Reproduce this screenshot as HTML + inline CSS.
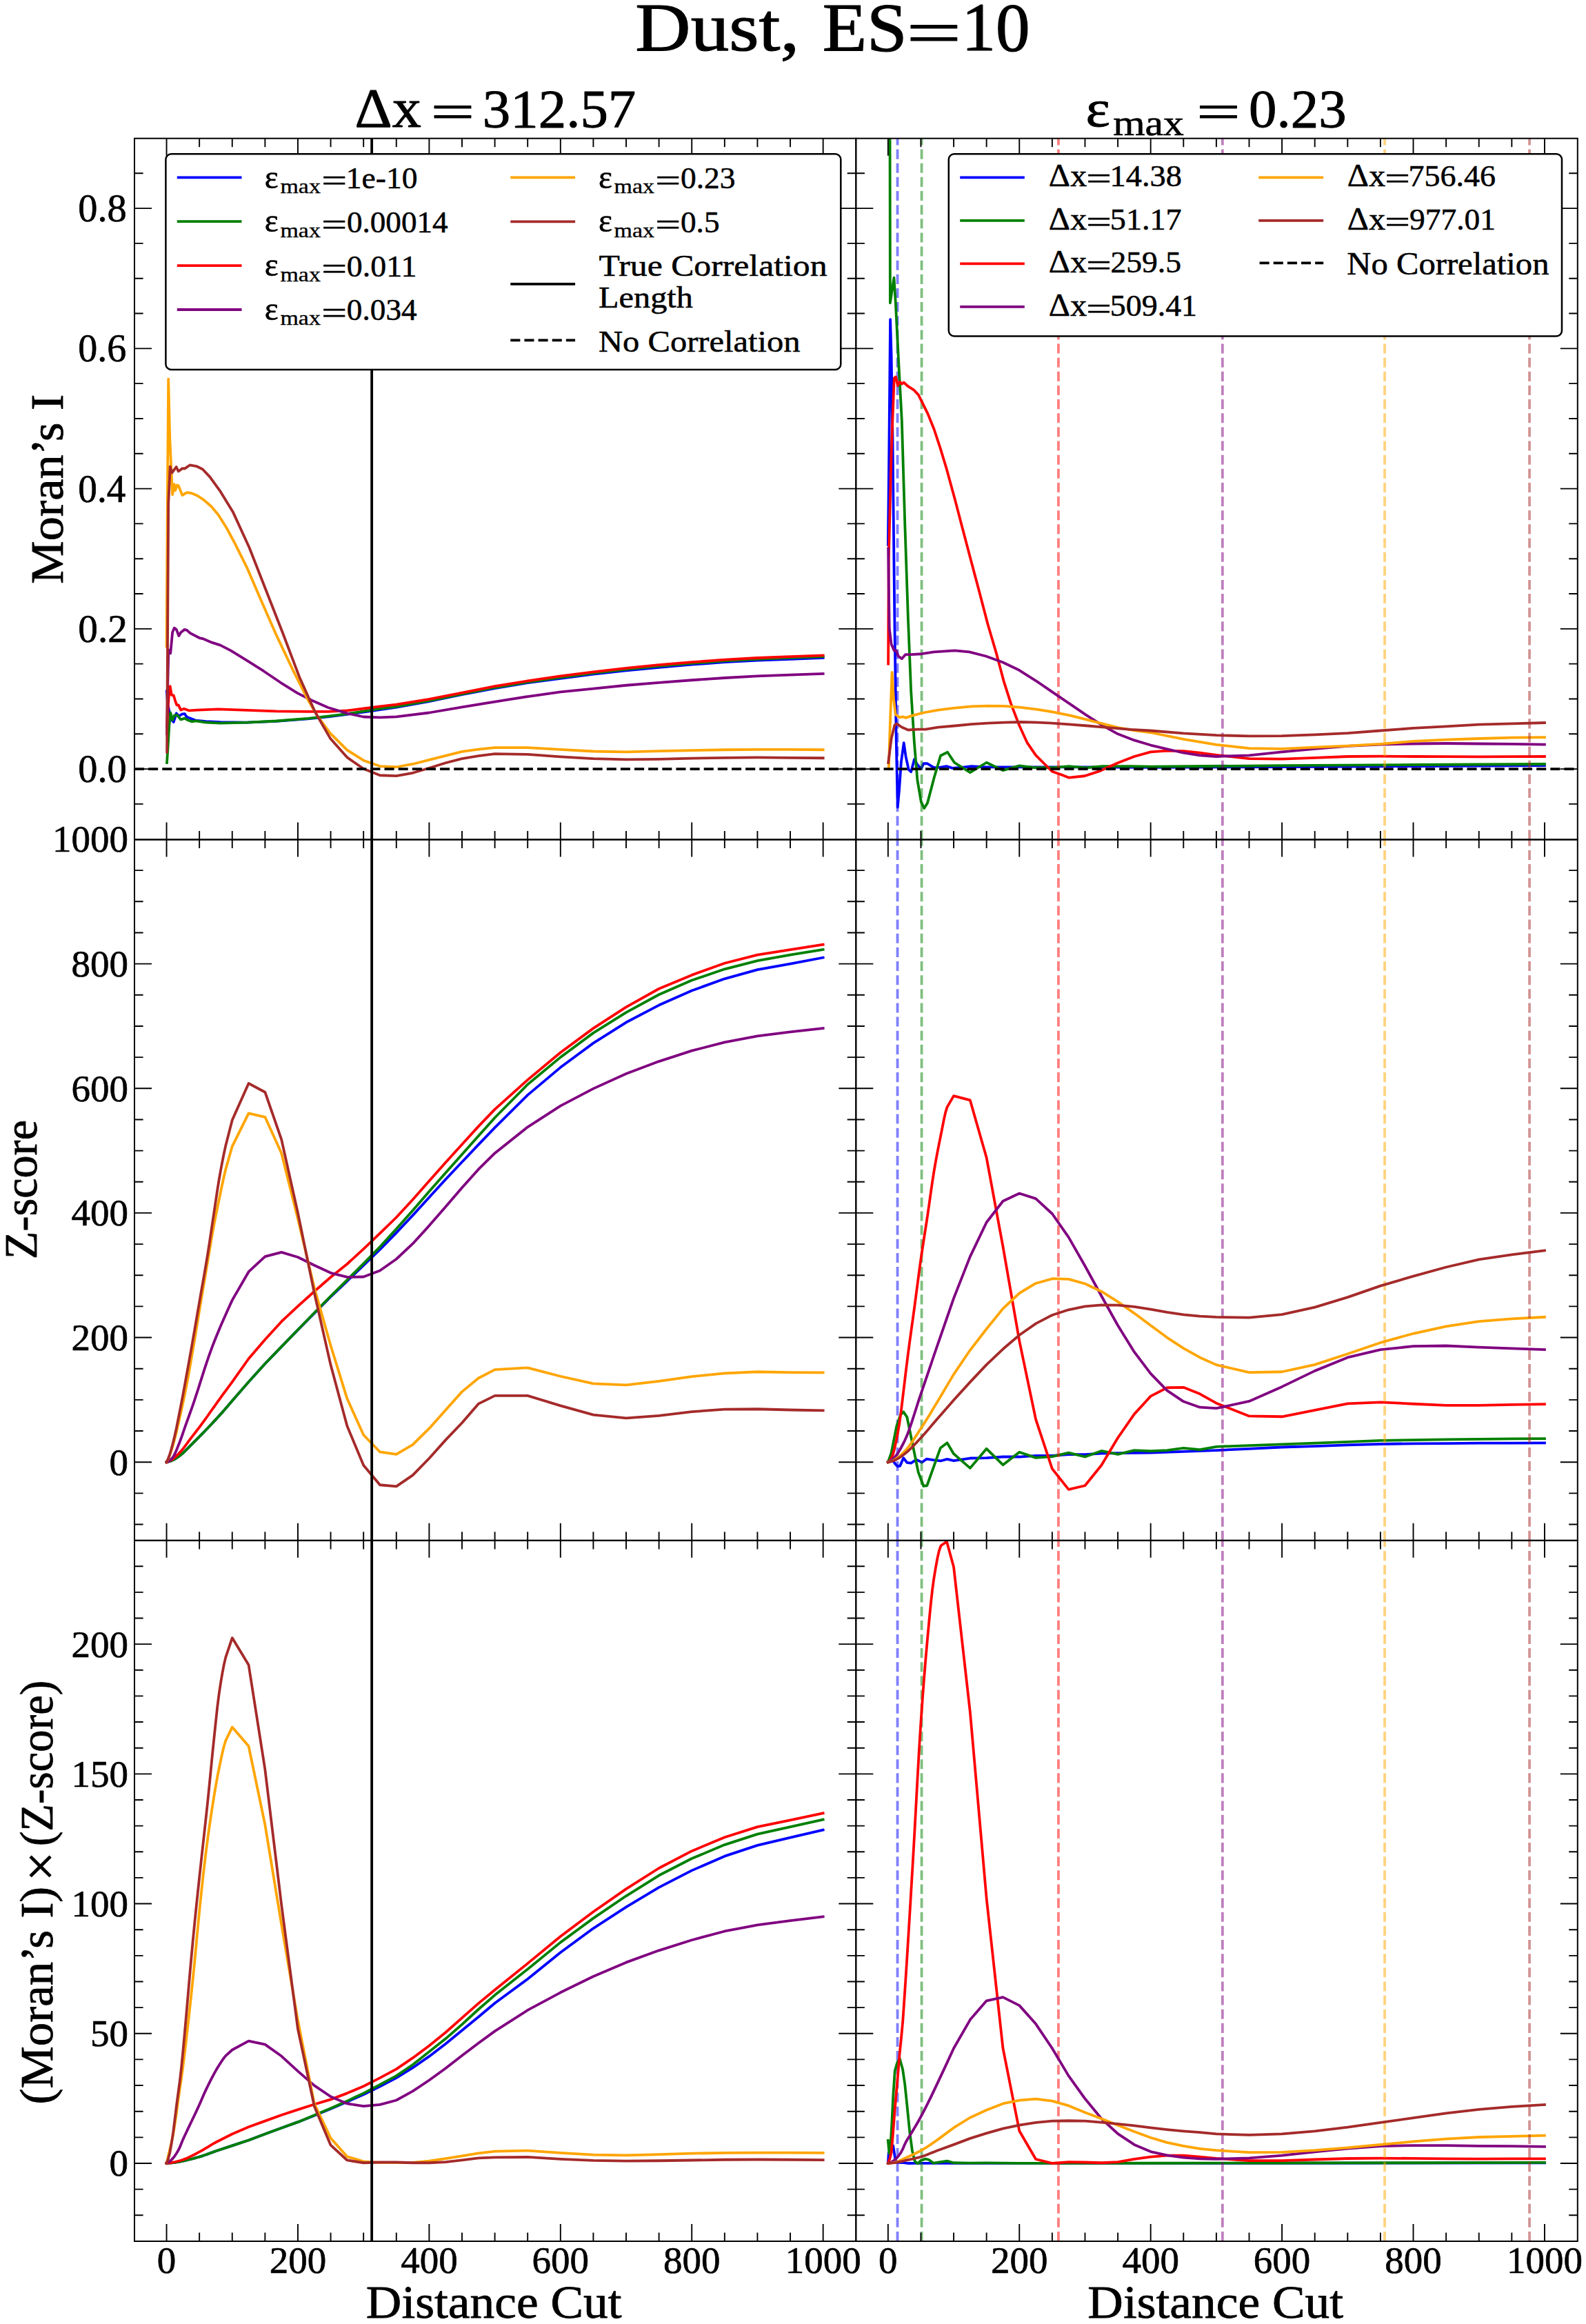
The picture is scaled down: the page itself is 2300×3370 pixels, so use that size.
<!DOCTYPE html>
<html lang="en"><head><meta charset="utf-8"><title>Dust, ES=10</title>
<style>html,body{margin:0;padding:0;background:#fff}svg{display:block}text{font-family:"Liberation Serif", "DejaVu Serif", serif;fill:#000}</style>
</head><body>
<svg width="2300" height="3370" viewBox="0 0 2300 3370">
<rect x="0" y="0" width="2300" height="3370" fill="#fff"/>
<defs>
<clipPath id="c00"><rect x="195" y="200.7" width="1046.3" height="1016.8"/></clipPath>
<clipPath id="c01"><rect x="1241.3" y="200.7" width="1046.5" height="1016.8"/></clipPath>
<clipPath id="c10"><rect x="195" y="1217.5" width="1046.3" height="1016.3"/></clipPath>
<clipPath id="c11"><rect x="1241.3" y="1217.5" width="1046.5" height="1016.3"/></clipPath>
<clipPath id="c20"><rect x="195" y="2233.8" width="1046.3" height="1016.2"/></clipPath>
<clipPath id="c21"><rect x="1241.3" y="2233.8" width="1046.5" height="1016.2"/></clipPath>
</defs>
<g>
<polyline clip-path="url(#c00)" points="241.84,1002.3 242.98,1018.56 245.36,1031.77 248.79,1043.96 251.74,1047.01 255.83,1034.41 259.35,1038.37 264.4,1035.32 267.73,1035.02 270.68,1039.39 276.78,1041.93 283.44,1044.57 298.68,1046.2 319.62,1047.21 358.66,1047.62 400.55,1045.79 446.25,1042.44 475.77,1039.39 503.38,1035.83 527.18,1032.58 550.98,1029.23 574.78,1025.67 622.39,1017.03 670,1007.17 717.6,998.03 765.2,990.1 812.81,983.8 860.41,977.7 908.02,972.42 955.62,967.74 1003.23,963.68 1050.84,960.22 1098.44,957.58 1146.05,955.75 1193.65,954.02" fill="none" stroke="#0000ff" stroke-width="3.8" stroke-linejoin="round" stroke-linecap="square"/>
<polyline clip-path="url(#c00)" points="242.03,1105.95 243.45,1084.61 245.36,1052.09 247.26,1033.5 250.12,1043.96 252.98,1037.36 256.78,1036.85 262.31,1043.45 267.73,1041.63 272.97,1044.47 278.68,1046.4 283.44,1045.49 298.68,1047.62 319.62,1048.54 358.66,1047.62 400.55,1045.49 446.25,1041.93 475.77,1038.58 503.38,1035.02 527.18,1031.36 550.98,1027.5 574.78,1024.65 622.39,1016.02 670,1006.36 717.6,997.01 765.2,989.08 812.81,982.28 860.41,976.08 908.02,970.69 955.62,965.91 1003.23,961.95 1050.84,958.39 1098.44,955.75 1146.05,953.92 1193.65,952.2" fill="none" stroke="#008000" stroke-width="3.8" stroke-linejoin="round" stroke-linecap="square"/>
<polyline clip-path="url(#c00)" points="242.03,1054.12 243.45,1028.72 244.88,1008.39 246.69,995.18 248.79,1007.89 251.74,1008.39 253.93,1015.51 256.31,1022.32 258.69,1022.32 262.31,1029.53 266.88,1027.7 274.4,1030.45 286.3,1029.53 316.58,1028.31 358.66,1029.84 400.55,1031.36 446.25,1031.97 475.77,1031.97 503.38,1030.45 527.18,1027.5 550.98,1024.45 574.78,1021.6 622.39,1013.98 670,1004.53 717.6,995.18 765.2,987.36 812.81,980.45 860.41,974.35 908.02,968.96 955.62,964.19 1003.23,960.22 1050.84,956.67 1098.44,954.02 1146.05,952.2 1193.65,950.47" fill="none" stroke="#ff0000" stroke-width="3.8" stroke-linejoin="round" stroke-linecap="square"/>
<polyline clip-path="url(#c00)" points="242.03,1064.29 242.98,1003.31 244.41,942.34 247.26,947.42 250.12,916.93 252.69,910.63 255.83,912.87 259.35,922.01 262.31,916.93 267.73,912.87 271.07,913.88 275.83,918.15 289.16,925.06 293.92,926.08 307.24,931.67 319.62,935.63 334.67,943.35 358.66,958.19 382.46,973.23 406.93,989.8 431.02,1004.84 451.96,1015.51 475.77,1025.97 503.38,1034.41 527.18,1039.49 550.98,1040.41 574.78,1039.39 622.39,1033.5 670,1025.47 717.6,1017.54 765.2,1010.02 812.81,1003.31 860.41,998.54 908.02,993.76 955.62,989.8 1003.23,986.24 1050.84,982.99 1098.44,980.45 1146.05,978.72 1193.65,976.89" fill="none" stroke="#800080" stroke-width="3.8" stroke-linejoin="round" stroke-linecap="square"/>
<polyline clip-path="url(#c00)" points="241.55,937.26 242.98,708.6 244.22,549.56 246.31,637.46 250.12,717.24 252.69,702.2 254.21,711.14 256.78,703.52 258.69,704.03 264.4,718.15 271.07,714.19 277.35,715.1 286.3,718.76 295.44,724.86 306.01,734.01 316.58,746.4 328.57,765.51 340.57,787.87 358.66,824.15 376.75,866.32 400.55,920.49 424.92,971.81 446.06,1013.88 461.1,1039.49 479.19,1063.58 503.38,1087.66 527.18,1102.7 550.98,1111.03 574.78,1112.25 598.59,1107.99 622.39,1101.89 646.19,1095.79 670,1089.9 693.8,1086.64 717.6,1084.21 765.2,1084.21 812.81,1086.85 860.41,1089.49 908.02,1090.41 955.62,1089.08 1003.23,1088.17 1050.84,1087.25 1098.44,1086.85 1146.05,1086.85 1193.65,1087.25" fill="none" stroke="#ffa500" stroke-width="3.8" stroke-linejoin="round" stroke-linecap="square"/>
<polyline clip-path="url(#c00)" points="242.12,1090.71 243.26,891.52 244.22,730.96 246.69,676.59 249.36,685.53 255.64,677.1 258.69,683.5 264.69,679.13 267.73,679.64 275.25,674.45 284.87,676.08 293.92,680.45 304.39,691.63 319.62,712.66 337.71,742.14 361.51,793.96 385.79,855.96 410.07,917.95 433.87,980.95 456.72,1031.97 479.19,1071.1 503.38,1098.23 527.18,1114.8 550.98,1124.25 574.78,1125.06 598.59,1120.79 622.39,1113.78 646.19,1106.26 670,1100.06 693.8,1096.1 717.6,1093.05 765.2,1093.96 812.81,1097.42 860.41,1100.06 908.02,1101.38 955.62,1100.97 1003.23,1099.65 1050.84,1098.84 1098.44,1098.33 1146.05,1098.84 1193.65,1099.25" fill="none" stroke="#a52a2a" stroke-width="3.8" stroke-linejoin="round" stroke-linecap="square"/>
<line x1="539.15" y1="200.7" x2="539.15" y2="1217.5" stroke="#000" stroke-width="3.8"/>
<line x1="195" y1="1115.1" x2="1241.3" y2="1115.1" stroke="#000" stroke-width="3.8" stroke-dasharray="14.06 6.08"/>
</g>
<g>
<polyline clip-path="url(#c01)" points="1287.85,789.9 1289.28,657.79 1291.09,463.18 1292.61,515.51 1294.51,637.46 1297.37,901.69 1299.75,1074.45 1301.75,1170.49 1304.04,1145.59 1306.89,1104.94 1310.7,1077.19 1313.56,1096.81 1317.75,1116.12 1321.17,1119.16 1325.93,1101.28 1330.22,1108.49 1335.84,1115.1 1339.26,1107.27 1344.98,1107.27 1354.5,1113.07 1364.02,1112.56 1372.59,1111.03 1381.16,1113.88 1396.39,1112.56 1408.77,1111.24 1430.66,1112.36 1478.27,1112.36 1573.48,1112.36 1668.69,1112.86 1859.11,1112.05 2049.53,1111.03 2239.95,1110.22" fill="none" stroke="#0000ff" stroke-width="3.8" stroke-linejoin="round" stroke-linecap="square"/>
<line x1="1301.54" y1="1217.5" x2="1301.54" y2="200.7" stroke="#0000ff" stroke-opacity="0.5" stroke-width="3.8" stroke-dasharray="14.06 6.08"/>
<polyline clip-path="url(#c01)" points="1289.94,-206.03 1290.9,439.29 1296.42,402.71 1298.89,440.31 1301.37,489.29 1303.85,538.38 1305.94,574.96 1307.84,610.33 1312.32,760.94 1316.89,896.61 1321.17,1002.3 1325.93,1077.5 1330.41,1131.36 1335.84,1162.86 1340.22,1172.01 1344.98,1164.49 1354.5,1128.31 1364.02,1095.79 1374.11,1090.71 1384.01,1105.75 1406.86,1120.18 1430.66,1105.75 1454.47,1117.13 1478.27,1110.32 1502.07,1113.27 1525.88,1113.27 1550.25,1111.03 1574.43,1113.27 1598.23,1111.03 1640.13,1111.03 1668.69,1111.54 1859.11,1110.22 2049.53,1109 2239.95,1107.99" fill="none" stroke="#008000" stroke-width="3.8" stroke-linejoin="round" stroke-linecap="square"/>
<line x1="1336.57" y1="1217.5" x2="1336.57" y2="200.7" stroke="#008000" stroke-opacity="0.5" stroke-width="3.8" stroke-dasharray="14.06 6.08"/>
<polyline clip-path="url(#c01)" points="1288.14,962.66 1288.8,810.22 1292.61,655.75 1296.7,548.54 1299.08,546.41 1301.94,559.21 1304.8,553.62 1307.84,556.67 1310.7,554.54 1316.89,560.23 1324.98,565.31 1331.93,572.63 1336.41,581.57 1345.45,599.86 1354.5,622.22 1363.54,649.66 1372.59,679.54 1384.58,723.23 1396.68,769.57 1408.77,815.31 1420.76,860.33 1432.57,905.45 1444.95,947.42 1455.42,987.05 1465.89,1019.88 1477.98,1051.58 1489.7,1077.19 1502.07,1095.18 1514.16,1107.27 1525.88,1118.76 1538.25,1122.93 1550.25,1127.7 1572.91,1125.26 1595.38,1117.84 1621.08,1106.26 1644.89,1097.01 1668.69,1090.41 1692.49,1088.68 1716.29,1089.08 1740.1,1091.73 1763.9,1094.77 1811.5,1100.06 1859.11,1100.57 1906.71,1098.84 1954.32,1097.01 2001.92,1096.6 2049.53,1097.01 2097.13,1097.21 2144.74,1097.42 2192.34,1097.21 2239.95,1097.01" fill="none" stroke="#ff0000" stroke-width="3.8" stroke-linejoin="round" stroke-linecap="square"/>
<line x1="1534.92" y1="1217.5" x2="1534.92" y2="200.7" stroke="#ff0000" stroke-opacity="0.5" stroke-width="3.8" stroke-dasharray="14.06 6.08"/>
<polyline clip-path="url(#c01)" points="1288.14,795.49 1288.8,850.87 1289.75,911.85 1292.61,934.21 1296.7,943.35 1299.75,943.35 1302.7,951.48 1307.84,955.14 1312.99,949.15 1321.17,949.15 1336.41,948.23 1354.5,945.39 1384.58,943.35 1405.72,945.39 1429.71,951.48 1453.9,960.33 1477.98,971.81 1502.07,987.05 1525.88,1003.31 1550.25,1019.88 1574.43,1036.44 1598.23,1051.58 1621.08,1064.29 1644.89,1073.43 1668.69,1080.55 1716.29,1091.73 1740.1,1095.28 1763.9,1097.01 1811.5,1095.28 1859.11,1090.41 1906.71,1085.93 1954.32,1081.97 2001.92,1079.53 2049.53,1078.51 2097.13,1078.01 2144.74,1078.51 2192.34,1078.92 2239.95,1079.53" fill="none" stroke="#800080" stroke-width="3.8" stroke-linejoin="round" stroke-linecap="square"/>
<line x1="1772.86" y1="1217.5" x2="1772.86" y2="200.7" stroke="#800080" stroke-opacity="0.5" stroke-width="3.8" stroke-dasharray="14.06 6.08"/>
<polyline clip-path="url(#c01)" points="1288.8,1115.1 1290.71,1054.12 1293.56,974.86 1295.94,1013.47 1298.8,1036.44 1304.8,1040.41 1309.27,1039.39 1313.56,1040.91 1324.03,1037.36 1339.26,1033.5 1360.21,1029.53 1384.58,1026.58 1408.77,1024.45 1432.57,1023.64 1456.85,1023.84 1481.13,1025.97 1504.93,1028.92 1529.21,1032.78 1553.49,1037.87 1577.29,1043.96 1601.47,1050.06 1622.51,1055.45 1644.89,1059.21 1668.69,1062.25 1716.29,1071.81 1763.9,1079.84 1811.5,1085.12 1859.11,1085.93 1906.71,1083.6 1954.32,1081.56 2001.92,1078.92 2049.53,1074.96 2097.13,1072.72 2144.74,1070.99 2192.34,1069.67 2239.95,1069.17" fill="none" stroke="#ffa500" stroke-width="3.8" stroke-linejoin="round" stroke-linecap="square"/>
<line x1="2008.08" y1="1217.5" x2="2008.08" y2="200.7" stroke="#ffa500" stroke-opacity="0.5" stroke-width="3.8" stroke-dasharray="14.06 6.08"/>
<polyline clip-path="url(#c01)" points="1288.14,1105.95 1290.23,1089.69 1292.61,1071.1 1297.37,1051.58 1300.23,1049.45 1307.84,1054.53 1316.89,1058.49 1330.41,1057.58 1342.12,1057.58 1360.21,1054.53 1384.58,1052.5 1408.77,1050.06 1432.57,1048.54 1456.85,1047.62 1481.13,1047.01 1504.93,1047.62 1529.21,1048.84 1553.49,1050.67 1577.29,1052.5 1601.47,1054.53 1640.13,1057.89 1668.69,1059.51 1716.29,1063.47 1763.9,1066.12 1811.5,1067.34 1859.11,1067.03 1906.71,1065.3 1954.32,1063.07 2001.92,1059.51 2049.53,1055.95 2097.13,1053.31 2144.74,1050.67 2192.34,1049.35 2239.95,1048.03" fill="none" stroke="#a52a2a" stroke-width="3.8" stroke-linejoin="round" stroke-linecap="square"/>
<line x1="2218.06" y1="1217.5" x2="2218.06" y2="200.7" stroke="#a52a2a" stroke-opacity="0.5" stroke-width="3.8" stroke-dasharray="14.06 6.08"/>
<line x1="1241.3" y1="1115.1" x2="2287.8" y2="1115.1" stroke="#000" stroke-width="3.8" stroke-dasharray="14.06 6.08"/>
</g>
<g>
<polyline clip-path="url(#c10)" points="241.55,2120.2 243.93,2119.68 246.31,2118.98 248.69,2118.13 251.07,2117.1 253.45,2115.81 255.83,2114.3 258.21,2112.64 260.59,2110.89 262.97,2109.05 265.35,2107 267.73,2104.77 270.11,2102.41 272.49,2099.99 274.87,2097.56 277.25,2095.18 279.63,2092.84 282.01,2090.47 284.39,2088.09 286.77,2085.69 289.16,2083.27 291.54,2080.84 293.92,2078.4 296.3,2075.95 298.68,2073.48 301.06,2071 303.44,2068.51 305.82,2065.99 308.2,2063.46 310.58,2060.91 312.96,2058.34 315.34,2055.75 317.72,2053.15 320.1,2050.52 322.48,2047.86 324.57,2045.51 336.76,2031.33 360.56,2003.87 384.37,1977.49 408.17,1952.84 431.97,1928.45 455.77,1904.34 479.57,1880.4 503.38,1857.82 527.18,1834.79 550.98,1811.94 574.78,1787.55 598.59,1762.35 622.39,1736.34 646.19,1710.33 670,1685.04 693.8,1659.84 717.6,1635.18 765.2,1587.85 812.81,1547.84 860.41,1512.62 908.02,1482.54 955.62,1457.61 1003.23,1436.48 1050.84,1419.32 1098.44,1406.13 1146.05,1397.64 1193.65,1388.61" fill="none" stroke="#0000ff" stroke-width="3.8" stroke-linejoin="round" stroke-linecap="square"/>
<polyline clip-path="url(#c10)" points="241.55,2120.2 243.93,2119.68 246.31,2118.98 248.69,2118.13 251.07,2117.1 253.45,2115.81 255.83,2114.3 258.21,2112.64 260.59,2110.89 262.97,2109.05 265.35,2107 267.73,2104.77 270.11,2102.41 272.49,2099.99 274.87,2097.56 277.25,2095.18 279.63,2092.84 282.01,2090.47 284.39,2088.09 286.77,2085.69 289.16,2083.27 291.54,2080.84 293.92,2078.4 296.3,2075.95 298.68,2073.48 301.06,2071 303.44,2068.51 305.82,2065.99 308.2,2063.46 310.58,2060.91 312.96,2058.34 315.34,2055.75 317.72,2053.15 320.1,2050.52 322.48,2047.86 324.57,2045.51 336.76,2031.33 360.56,2003.87 384.37,1977.49 408.17,1952.84 431.97,1928.27 455.77,1903.7 479.57,1879.5 503.38,1856.1 527.18,1832.44 550.98,1808.05 574.78,1782.04 598.59,1755.22 622.39,1727.67 646.19,1700.84 670,1674.02 693.8,1647.28 717.6,1620.73 765.2,1572.5 812.81,1533.12 860.41,1497.9 908.02,1468.09 955.62,1442.26 1003.23,1421.57 1050.84,1405.32 1098.44,1393.12 1146.05,1384.63 1193.65,1376.87" fill="none" stroke="#008000" stroke-width="3.8" stroke-linejoin="round" stroke-linecap="square"/>
<polyline clip-path="url(#c10)" points="241.55,2120.2 243.93,2119.32 246.31,2118.2 248.69,2116.87 251.07,2115.31 253.45,2113.41 255.83,2111.23 258.21,2108.87 260.59,2106.39 262.97,2103.82 265.35,2100.97 267.73,2097.9 270.11,2094.68 272.49,2091.41 274.87,2088.15 277.25,2084.98 279.63,2081.89 282.01,2078.81 284.39,2075.74 286.77,2072.66 289.16,2069.54 291.54,2066.39 293.92,2063.18 296.3,2059.91 298.68,2056.59 301.06,2053.23 303.44,2049.86 305.82,2046.49 308.2,2043.14 310.58,2039.81 312.96,2036.48 315.34,2033.14 317.72,2029.81 320.1,2026.49 322.48,2023.19 324.57,2020.31 336.76,2003.87 360.56,1970.27 384.37,1942.45 408.17,1916.44 431.97,1894.22 455.77,1872.72 479.57,1851.95 503.38,1832.98 527.18,1811.03 550.98,1788.45 574.78,1765.24 598.59,1739.5 622.39,1712.41 646.19,1685.76 670,1659.57 693.8,1633.38 717.6,1608.63 765.2,1565.91 812.81,1526.26 860.41,1491.12 908.02,1460.32 955.62,1433.77 1003.23,1413.9 1050.84,1396.74 1098.44,1384.63 1146.05,1377.14 1193.65,1369.64" fill="none" stroke="#ff0000" stroke-width="3.8" stroke-linejoin="round" stroke-linecap="square"/>
<polyline clip-path="url(#c10)" points="241.55,2120.2 243.93,2119.43 246.31,2117.71 248.69,2115.41 251.07,2112.68 253.45,2108.48 255.83,2103.08 258.21,2097.11 260.59,2091.17 262.97,2084.77 265.35,2077.9 267.73,2070.91 270.11,2064.15 272.49,2057.57 274.87,2051.02 277.25,2044.41 279.63,2037.65 282.01,2030.65 284.39,2023.45 286.77,2016.09 289.16,2008.63 291.54,2001.12 293.92,1993.62 296.3,1986.2 298.68,1978.89 301.06,1971.77 303.44,1964.88 305.82,1958.28 308.2,1951.94 310.58,1945.79 312.96,1939.8 315.34,1933.95 317.72,1928.21 320.1,1922.56 321.43,1919.42 330.1,1900 336.76,1885.37 360.56,1844.18 384.37,1822.14 408.17,1815.82 431.97,1823.05 455.77,1834.79 479.57,1845.81 503.38,1851.95 527.18,1851.5 550.98,1842.47 574.78,1825.76 598.59,1803.45 622.39,1777.35 646.19,1749.89 670,1722.25 693.8,1695.7 717.6,1672.21 765.2,1634.28 812.81,1603.57 860.41,1578.64 908.02,1557.05 955.62,1539.08 1003.23,1523.64 1050.84,1511.44 1098.44,1502.41 1146.05,1496.36 1193.65,1491.12" fill="none" stroke="#800080" stroke-width="3.8" stroke-linejoin="round" stroke-linecap="square"/>
<polyline clip-path="url(#c10)" points="241.55,2120.2 243.93,2115.65 246.31,2109.97 248.69,2102.92 251.07,2094.83 253.45,2086.25 255.83,2076.83 258.21,2066.23 260.59,2055.58 262.97,2045.11 265.35,2034.17 267.73,2022.83 270.11,2010.91 272.49,1998.28 274.87,1985.07 277.25,1971.47 279.63,1957.68 282.01,1943.7 284.39,1929.35 286.77,1914.81 289.16,1900.29 291.54,1885.98 293.92,1871.93 296.3,1857.98 298.68,1844.01 301.06,1829.75 303.44,1815.35 305.82,1801.14 308.2,1787.45 310.58,1774.6 312.96,1762.48 315.34,1750.83 317.72,1739.41 320.1,1727.96 322.48,1716.6 324.86,1705.72 327.24,1695.7 336.76,1662.28 360.56,1614.41 384.37,1619.83 408.17,1672.21 431.97,1767.32 455.77,1867.3 479.57,1951.3 503.38,2028.07 527.18,2080.73 550.98,2105.48 574.78,2108.82 598.59,2094.91 622.39,2071.43 646.19,2044.69 670,2018.14 693.8,1998.54 717.6,1986.17 765.2,1983.37 812.81,1995.74 860.41,2006.4 908.02,2008.47 955.62,2002.78 1003.23,1996.1 1050.84,1991.31 1098.44,1989.24 1146.05,1990.14 1193.65,1990.41" fill="none" stroke="#ffa500" stroke-width="3.8" stroke-linejoin="round" stroke-linecap="square"/>
<polyline clip-path="url(#c10)" points="241.55,2120.2 243.93,2115.01 246.31,2108.56 248.69,2100.54 251.07,2091.36 253.45,2081.61 255.83,2070.91 258.21,2058.89 260.59,2046.78 262.97,2034.82 265.35,2022.39 267.73,2009.5 270.11,1996.46 272.49,1983.39 274.87,1970.18 277.25,1956.8 279.63,1943.25 282.01,1929.59 284.39,1915.8 286.77,1901.92 289.16,1888.08 291.54,1874.44 293.92,1860.98 296.3,1847.47 298.68,1833.68 301.06,1819.39 303.44,1804.32 305.82,1788.57 308.2,1772.57 310.58,1756.76 312.96,1740.76 315.34,1724.85 317.72,1710.15 320.1,1696.77 322.48,1684.15 324.86,1672.34 327.24,1661.37 336.76,1624.34 360.56,1571.05 384.37,1583.7 408.17,1652.34 431.97,1758.92 455.77,1874.53 479.57,1979.3 503.38,2067.81 527.18,2124.72 550.98,2153.26 574.78,2155.42 598.59,2139.17 622.39,2114.78 646.19,2088.14 670,2063.3 693.8,2035.66 717.6,2023.92 765.2,2023.83 812.81,2038.37 860.41,2051.56 908.02,2056.43 955.62,2052.91 1003.23,2047.13 1050.84,2043.61 1098.44,2043.25 1146.05,2044.51 1193.65,2045.42" fill="none" stroke="#a52a2a" stroke-width="3.8" stroke-linejoin="round" stroke-linecap="square"/>
<line x1="539.15" y1="1217.5" x2="539.15" y2="2233.8" stroke="#000" stroke-width="3.8"/>
</g>
<g>
<polyline clip-path="url(#c11)" points="1287.85,2120.2 1295.18,2118.39 1298.32,2122.91 1301.85,2126.52 1305.18,2125.62 1310.22,2114.15 1315.27,2120.83 1321.17,2121.55 1328.79,2116.59 1336.98,2120.56 1343.64,2115.68 1353.54,2117.22 1364.02,2118.48 1373.54,2115.86 1383.06,2118.21 1406.86,2114.51 1430.66,2114.15 1454.47,2112.52 1478.27,2112.52 1502.07,2110.81 1525.88,2110.81 1549.68,2109.18 1573.48,2109.18 1597.28,2107.56 1621.08,2107.19 1668.69,2106.65 1716.29,2104.85 1763.9,2103.04 1811.5,2100.96 1859.11,2098.52 1906.71,2097.17 1954.32,2095.45 2001.92,2094.01 2049.53,2093.28 2097.13,2093.1 2144.74,2092.65 2192.34,2092.65 2239.95,2092.29" fill="none" stroke="#0000ff" stroke-width="3.8" stroke-linejoin="round" stroke-linecap="square"/>
<line x1="1301.54" y1="2233.8" x2="1301.54" y2="1217.5" stroke="#0000ff" stroke-opacity="0.5" stroke-width="3.8" stroke-dasharray="14.06 6.08"/>
<polyline clip-path="url(#c11)" points="1287.85,2120.2 1292.61,2106.65 1300.23,2068.09 1305.94,2051.56 1310.22,2047.31 1315.27,2054.72 1323.55,2094.91 1331.65,2134.65 1339.26,2154.97 1344.31,2154.25 1353.54,2128.33 1363.73,2099.79 1373.54,2092.2 1383.06,2108.19 1406.86,2128.87 1430.66,2100.78 1454.47,2124.17 1478.27,2105.75 1502.07,2113.88 1525.88,2112.16 1549.68,2106.65 1573.48,2112.52 1597.28,2103.94 1621.08,2108.82 1644.89,2103.13 1668.69,2104.12 1692.49,2103.04 1716.29,2099.79 1740.1,2102.14 1763.9,2097.8 1811.5,2096.08 1859.11,2094.37 1906.71,2092.65 1954.32,2090.94 2001.92,2088.86 2049.53,2088.14 2097.13,2087.41 2144.74,2086.78 2192.34,2086.42 2239.95,2086.06" fill="none" stroke="#008000" stroke-width="3.8" stroke-linejoin="round" stroke-linecap="square"/>
<line x1="1336.57" y1="2233.8" x2="1336.57" y2="1217.5" stroke="#008000" stroke-opacity="0.5" stroke-width="3.8" stroke-dasharray="14.06 6.08"/>
<polyline clip-path="url(#c11)" points="1287.85,2120.2 1290.23,2118.42 1292.61,2114.96 1294.99,2108.84 1297.37,2099.99 1299.75,2089.19 1302.13,2076.85 1304.51,2062.92 1306.89,2045.61 1309.27,2025.49 1311.65,2005.73 1314.03,1985.84 1316.41,1966.66 1318.79,1948.69 1321.17,1931.44 1323.55,1914.41 1325.93,1897.11 1328.31,1879.17 1330.69,1860.94 1333.07,1842.96 1335.45,1825.76 1337.84,1809.65 1340.22,1794.24 1342.6,1779.01 1344.98,1763.44 1347.36,1746.99 1349.74,1730.08 1352.12,1713.58 1354.5,1698.41 1356.88,1684.66 1359.26,1671.77 1361.64,1659.55 1364.02,1647.83 1366.4,1635.8 1368.78,1623.77 1371.16,1613.15 1373.54,1605.38 1383.06,1589.12 1406.86,1595.44 1430.66,1678.81 1454.47,1807.69 1478.27,1944.44 1502.07,2058.06 1525.88,2129.86 1549.68,2159.94 1573.48,2154.25 1597.28,2124.72 1621.08,2084.98 1644.89,2050.65 1668.69,2024.64 1692.49,2012.27 1716.29,2011.82 1740.1,2021.3 1763.9,2034.67 1811.5,2053.45 1859.11,2054.27 1906.71,2044.78 1954.32,2035.39 2001.92,2033.31 2049.53,2035.75 2097.13,2037.83 2144.74,2037.83 2192.34,2036.83 2239.95,2036.11" fill="none" stroke="#ff0000" stroke-width="3.8" stroke-linejoin="round" stroke-linecap="square"/>
<line x1="1534.92" y1="2233.8" x2="1534.92" y2="1217.5" stroke="#ff0000" stroke-opacity="0.5" stroke-width="3.8" stroke-dasharray="14.06 6.08"/>
<polyline clip-path="url(#c11)" points="1287.85,2120.2 1290.23,2118.97 1292.61,2117.3 1294.99,2115.27 1297.37,2112.97 1299.75,2110.26 1302.13,2106.97 1304.51,2103.19 1306.89,2099.01 1309.27,2094.5 1311.65,2089.76 1314.03,2084.55 1316.41,2078.67 1318.79,2072.23 1321.17,2065.35 1323.55,2058.14 1325.93,2050.73 1328.31,2043.22 1330.69,2035.73 1333.07,2028.39 1335.45,2021.3 1337.84,2014.36 1340.22,2007.38 1342.6,2000.37 1344.98,1993.35 1347.36,1986.31 1349.74,1979.28 1352.12,1972.25 1354.5,1965.24 1356.88,1958.25 1359.26,1951.3 1383.06,1882.66 1406.86,1822.14 1430.66,1772.47 1454.47,1741.76 1478.27,1730.56 1502.07,1738.15 1525.88,1760 1549.68,1794.14 1573.48,1835.69 1597.28,1879.23 1621.08,1922.04 1644.89,1960.42 1668.69,1991.95 1692.49,2016.33 1716.29,2032.32 1740.1,2040.72 1763.9,2042.16 1811.5,2031.96 1859.11,2010.91 1906.71,1987.88 1954.32,1968.46 2001.92,1957.08 2049.53,1952.2 2097.13,1951.48 2144.74,1953.56 2192.34,1955.28 2239.95,1957.08" fill="none" stroke="#800080" stroke-width="3.8" stroke-linejoin="round" stroke-linecap="square"/>
<line x1="1772.86" y1="2233.8" x2="1772.86" y2="1217.5" stroke="#800080" stroke-opacity="0.5" stroke-width="3.8" stroke-dasharray="14.06 6.08"/>
<polyline clip-path="url(#c11)" points="1287.85,2120.2 1290.23,2119.59 1292.61,2118.76 1294.99,2117.74 1297.37,2116.59 1299.75,2115.22 1302.13,2113.54 1304.51,2111.62 1306.89,2109.5 1309.27,2107.23 1311.65,2104.85 1314.03,2102.28 1316.41,2099.42 1318.79,2096.33 1321.17,2093.04 1323.55,2089.59 1325.93,2086.02 1328.31,2082.38 1330.69,2078.71 1333.07,2075.04 1335.45,2071.43 1337.84,2067.81 1340.22,2064.1 1342.6,2060.33 1344.98,2056.5 1347.36,2052.63 1349.74,2048.72 1352.12,2044.78 1354.5,2040.83 1356.88,2036.89 1359.26,2032.95 1383.06,1992.85 1406.86,1957.8 1430.66,1927.01 1454.47,1897.65 1478.27,1875.25 1502.07,1860.98 1525.88,1854.21 1549.68,1854.84 1573.48,1861.52 1597.28,1872.72 1621.08,1887.63 1644.89,1904.34 1668.69,1922.04 1692.49,1939.56 1716.29,1955.1 1740.1,1968.46 1763.9,1979.12 1811.5,1990.14 1859.11,1989.24 1906.71,1978.85 1954.32,1963.31 2001.92,1946.97 2049.53,1933.78 2097.13,1923.3 2144.74,1916.08 2192.34,1912.46 2239.95,1909.84" fill="none" stroke="#ffa500" stroke-width="3.8" stroke-linejoin="round" stroke-linecap="square"/>
<line x1="2008.08" y1="2233.8" x2="2008.08" y2="1217.5" stroke="#ffa500" stroke-opacity="0.5" stroke-width="3.8" stroke-dasharray="14.06 6.08"/>
<polyline clip-path="url(#c11)" points="1287.85,2120.2 1290.23,2119.75 1292.61,2119.13 1294.99,2118.36 1297.37,2117.49 1299.75,2116.44 1302.13,2115.14 1304.51,2113.64 1306.89,2112 1309.27,2110.25 1311.65,2108.46 1314.03,2106.57 1316.41,2104.52 1318.79,2102.33 1321.17,2100.03 1323.55,2097.63 1325.93,2095.16 1328.31,2092.64 1330.69,2090.09 1333.07,2087.52 1335.45,2084.98 1337.84,2082.4 1340.22,2079.74 1342.6,2077.02 1344.98,2074.25 1347.36,2071.45 1349.74,2068.62 1352.12,2065.8 1354.5,2062.98 1356.88,2060.18 1359.26,2057.43 1383.06,2030.33 1406.86,2004.14 1430.66,1978.85 1454.47,1956.27 1478.27,1935.95 1502.07,1919.33 1525.88,1907.04 1549.68,1899.28 1573.48,1894.4 1597.28,1892.32 1621.08,1892.59 1644.89,1894.94 1668.69,1898.65 1692.49,1902.98 1716.29,1906.32 1740.1,1908.67 1763.9,1909.94 1811.5,1910.66 1859.11,1906.14 1906.71,1895.66 1954.32,1881.12 2001.92,1864.59 2049.53,1850.59 2097.13,1837.5 2144.74,1826.3 2192.34,1819.43 2239.95,1813.47" fill="none" stroke="#a52a2a" stroke-width="3.8" stroke-linejoin="round" stroke-linecap="square"/>
<line x1="2218.06" y1="2233.8" x2="2218.06" y2="1217.5" stroke="#a52a2a" stroke-opacity="0.5" stroke-width="3.8" stroke-dasharray="14.06 6.08"/>
</g>
<g>
<polyline clip-path="url(#c20)" points="241.55,3137 243.93,3136.84 246.31,3136.63 248.69,3136.38 251.07,3136.11 253.45,3135.81 255.83,3135.46 258.21,3135.04 260.59,3134.59 262.97,3134.11 265.35,3133.61 267.73,3133.1 270.11,3132.57 272.49,3132.02 274.87,3131.45 277.25,3130.85 279.63,3130.24 282.01,3129.6 284.39,3128.95 286.77,3128.28 289.16,3127.59 291.54,3126.87 293.92,3126.09 296.3,3125.28 298.68,3124.45 301.06,3123.59 303.44,3122.72 305.82,3121.85 308.2,3120.98 310.58,3120.13 312.96,3119.31 336.76,3111.4 360.56,3103.5 384.37,3094.46 408.17,3085.8 431.97,3077.15 455.77,3067.74 479.57,3057.95 503.38,3047.78 527.18,3037.24 550.98,3025.57 574.78,3013.15 598.59,2998.47 622.39,2981.91 646.19,2963.84 670,2944.26 693.8,2924.69 717.6,2904.74 765.2,2869.73 812.81,2831.33 860.41,2796.32 908.02,2765.45 955.62,2736.84 1003.23,2712.38 1050.84,2691.67 1098.44,2675.86 1146.05,2664.57 1193.65,2653.65" fill="none" stroke="#0000ff" stroke-width="3.8" stroke-linejoin="round" stroke-linecap="square"/>
<polyline clip-path="url(#c20)" points="241.55,3137 243.93,3136.84 246.31,3136.63 248.69,3136.38 251.07,3136.11 253.45,3135.81 255.83,3135.46 258.21,3135.04 260.59,3134.59 262.97,3134.11 265.35,3133.61 267.73,3133.1 270.11,3132.57 272.49,3132.02 274.87,3131.45 277.25,3130.85 279.63,3130.24 282.01,3129.6 284.39,3128.95 286.77,3128.28 289.16,3127.59 291.54,3126.87 293.92,3126.09 296.3,3125.28 298.68,3124.45 301.06,3123.59 303.44,3122.72 305.82,3121.85 308.2,3120.98 310.58,3120.13 312.96,3119.31 336.76,3111.4 360.56,3103.5 384.37,3094.46 408.17,3085.8 431.97,3077.15 455.77,3067.36 479.57,3057.19 503.38,3046.65 527.18,3035.36 550.98,3022.94 574.78,3010.14 598.59,2993.95 622.39,2975.13 646.19,2956.31 670,2935.6 693.8,2913.77 717.6,2893.07 765.2,2855.42 812.81,2816.65 860.41,2781.64 908.02,2749.27 955.62,2719.53 1003.23,2695.06 1050.84,2675.11 1098.44,2659.67 1146.05,2649.13 1193.65,2638.59" fill="none" stroke="#008000" stroke-width="3.8" stroke-linejoin="round" stroke-linecap="square"/>
<polyline clip-path="url(#c20)" points="241.55,3137 243.93,3136.7 246.31,3136.35 248.69,3135.94 251.07,3135.5 253.45,3135.02 255.83,3134.48 258.21,3133.89 260.59,3133.23 262.97,3132.51 265.35,3131.73 267.73,3130.87 270.11,3129.93 272.49,3128.89 274.87,3127.79 277.25,3126.64 279.63,3125.44 282.01,3124.2 284.39,3122.95 286.77,3121.69 289.16,3120.44 291.54,3119.15 293.92,3117.8 296.3,3116.41 298.68,3114.98 301.06,3113.53 303.44,3112.07 305.82,3110.63 308.2,3109.21 310.58,3107.83 312.96,3106.51 336.76,3094.46 360.56,3084.3 384.37,3075.64 408.17,3066.98 431.97,3059.08 455.77,3051.55 479.57,3044.4 503.38,3035.36 527.18,3025.2 550.98,3013.15 574.78,3000.35 598.59,2984.17 622.39,2966.47 646.19,2947.27 670,2926.19 693.8,2905.11 717.6,2885.54 765.2,2847.14 812.81,2807.99 860.41,2772.23 908.02,2739.1 955.62,2708.99 1003.23,2684.14 1050.84,2664.19 1098.44,2649.13 1146.05,2639.35 1193.65,2629.18" fill="none" stroke="#ff0000" stroke-width="3.8" stroke-linejoin="round" stroke-linecap="square"/>
<polyline clip-path="url(#c20)" points="241.55,3137 243.93,3135.68 246.31,3133.92 248.69,3131.81 251.07,3129.33 253.45,3126.3 255.83,3122.76 258.21,3118.78 260.59,3114.07 262.97,3108.18 265.35,3102.37 267.73,3097.22 270.11,3092.2 272.49,3087.17 274.87,3082.18 277.25,3077.21 279.63,3072.24 282.01,3067.25 284.39,3062.21 286.77,3057.11 289.16,3051.92 291.54,3046.54 293.92,3041 296.3,3035.54 298.68,3030.39 301.06,3025.45 303.44,3020.63 305.82,3015.93 308.2,3011.36 310.58,3006.92 312.96,3002.61 315.34,2998.52 317.72,2994.71 320.1,2990.98 322.48,2987.38 324.86,2984.06 327.24,2981.15 336.76,2972.5 360.56,2959.7 384.37,2964.59 408.17,2981.53 431.97,3003.36 455.77,3024.07 479.57,3040.25 503.38,3050.42 527.18,3054.18 550.98,3051.92 574.78,3045.53 598.59,3032.35 622.39,3016.54 646.19,2999.22 670,2980.78 693.8,2962.71 717.6,2945.39 765.2,2914.9 812.81,2889.3 860.41,2865.96 908.02,2845.64 955.62,2828.32 1003.23,2813.26 1050.84,2800.46 1098.44,2791.43 1146.05,2785.03 1193.65,2779.38" fill="none" stroke="#800080" stroke-width="3.8" stroke-linejoin="round" stroke-linecap="square"/>
<polyline clip-path="url(#c20)" points="241.55,3137 243.93,3126.98 246.31,3116.71 248.69,3106.57 251.07,3095.2 253.45,3080.69 255.83,3064.49 258.21,3046.62 260.59,3029.64 262.97,3014.07 265.35,2996.72 267.73,2977.55 270.11,2957.44 272.49,2936.74 274.87,2915.36 277.25,2893.3 279.63,2870.58 282.01,2846.77 284.39,2821.54 286.77,2796.04 289.16,2771.41 291.54,2748.41 293.92,2726.22 296.3,2705.14 298.68,2685.63 301.06,2667.37 303.44,2650.08 305.82,2633.72 308.2,2618.27 310.58,2603.52 312.96,2589.43 315.34,2576.2 317.72,2564.02 320.1,2552.61 322.48,2541.68 324.86,2531.94 327.24,2524.16 336.76,2504.58 360.56,2532.06 384.37,2646.12 408.17,2790.68 431.97,2929.96 455.77,3050.42 479.57,3100.49 503.38,3127.21 527.18,3134.36 550.98,3135.87 574.78,3135.87 598.59,3135.87 622.39,3133.61 646.19,3130.22 670,3126.46 693.8,3122.32 717.6,3119.68 765.2,3118.55 812.81,3121.94 860.41,3124.58 908.02,3125.33 955.62,3124.2 1003.23,3122.7 1050.84,3121.94 1098.44,3121.57 1146.05,3121.57 1193.65,3121.94" fill="none" stroke="#ffa500" stroke-width="3.8" stroke-linejoin="round" stroke-linecap="square"/>
<polyline clip-path="url(#c20)" points="241.55,3137 243.93,3130.8 246.31,3121.63 248.69,3108.44 251.07,3092.75 253.45,3073.71 255.83,3054.18 258.21,3036.59 260.59,3018.94 262.97,2998.61 265.35,2974.83 267.73,2948.95 270.11,2922.43 272.49,2894.92 274.87,2867.63 277.25,2841 279.63,2815.24 282.01,2790.86 284.39,2767.53 286.77,2744.77 289.16,2722.56 291.54,2700.58 293.92,2678.9 296.3,2657.52 298.68,2635.97 301.06,2613.83 303.44,2590.52 305.82,2566.25 308.2,2542.06 310.58,2518.98 312.96,2496.2 315.34,2474.33 317.72,2455.64 320.1,2440 322.48,2425.9 324.86,2413.59 327.24,2403.32 336.76,2375.09 360.56,2414.24 384.37,2565.94 408.17,2762.07 431.97,2942.38 455.77,3054.18 479.57,3110.65 503.38,3132.48 527.18,3136.25 550.98,3135.49 574.78,3135.49 598.59,3136.25 622.39,3136.25 646.19,3135.12 670,3132.48 693.8,3129.47 717.6,3128.34 765.2,3127.97 812.81,3130.79 860.41,3132.86 908.02,3133.61 955.62,3133.24 1003.23,3132.48 1050.84,3131.73 1098.44,3131.5 1146.05,3131.73 1193.65,3132.11" fill="none" stroke="#a52a2a" stroke-width="3.8" stroke-linejoin="round" stroke-linecap="square"/>
<line x1="539.15" y1="2233.8" x2="539.15" y2="3250" stroke="#000" stroke-width="3.8"/>
</g>
<g>
<polyline clip-path="url(#c21)" points="1287.85,3137 1288.8,3121.94 1291.66,3116.3 1295.18,3111.4 1296.89,3121.94 1298.32,3131.73 1301.18,3135.87 1310.7,3136.06 1316.41,3137 1325.93,3136.81 1344.98,3136.92 1383.06,3136.96 1478.27,3136.92 1668.69,3136.89 1859.11,3136.74 2239.95,3136.44" fill="none" stroke="#0000ff" stroke-width="3.8" stroke-linejoin="round" stroke-linecap="square"/>
<line x1="1301.54" y1="3250" x2="1301.54" y2="2233.8" stroke="#0000ff" stroke-opacity="0.5" stroke-width="3.8" stroke-dasharray="14.06 6.08"/>
<polyline clip-path="url(#c21)" points="1287.85,3103.87 1289.56,3122.88 1291.47,3110.27 1293.37,3078.65 1295.18,3041.01 1297.75,3002.99 1301.18,2990.94 1304.7,2984.92 1309.08,3000.73 1312.22,3022.19 1315.46,3053.43 1319.27,3091.83 1322.98,3119.12 1326.79,3134.36 1331.17,3137.38 1335.45,3132.86 1341.83,3130.6 1346.88,3131.73 1353.83,3136.74 1373.44,3133.61 1383.06,3136.25 1406.86,3136.62 1430.66,3136.44 1478.27,3136.81 1573.48,3136.81 1668.69,3136.77 1763.9,3136.62 1859.11,3136.51 2049.53,3136.25 2239.95,3135.87" fill="none" stroke="#008000" stroke-width="3.8" stroke-linejoin="round" stroke-linecap="square"/>
<line x1="1336.57" y1="3250" x2="1336.57" y2="2233.8" stroke="#008000" stroke-opacity="0.5" stroke-width="3.8" stroke-dasharray="14.06 6.08"/>
<polyline clip-path="url(#c21)" points="1287.85,3137 1290.23,3131.02 1292.61,3121.53 1294.99,3094.17 1297.37,3062.75 1299.75,3035.75 1302.13,3008.64 1304.51,2979.09 1306.89,2956.18 1309.27,2930.68 1311.65,2896.08 1314.03,2860.02 1316.41,2822.47 1318.79,2783.81 1321.17,2744.39 1323.55,2704.55 1325.93,2663.47 1328.31,2620.03 1330.69,2576.35 1333.07,2534.62 1335.45,2497.05 1337.84,2463.47 1340.22,2432.23 1342.6,2403.28 1344.98,2376.59 1347.36,2351.04 1349.74,2326.61 1352.12,2304.96 1354.5,2287.75 1356.88,2273.49 1359.26,2260.39 1361.64,2249.69 1364.02,2242.61 1364.97,2241.07 1372.97,2235.43 1383.06,2272.32 1406.86,2482.75 1430.66,2753.03 1454.47,2970.24 1478.27,3089.95 1502.07,3130.98 1525.88,3137 1549.68,3135.12 1573.48,3135.49 1597.28,3136.25 1621.08,3135.12 1644.89,3130.98 1668.69,3127.59 1692.49,3125.71 1716.29,3125.71 1740.1,3127.59 1763.9,3129.85 1811.5,3133.05 1859.11,3133.05 1906.71,3131.5 1954.32,3130 2001.92,3129.62 2049.53,3129.85 2097.13,3130.37 2144.74,3130.6 2192.34,3130.37 2239.95,3130.37" fill="none" stroke="#ff0000" stroke-width="3.8" stroke-linejoin="round" stroke-linecap="square"/>
<line x1="1534.92" y1="3250" x2="1534.92" y2="2233.8" stroke="#ff0000" stroke-opacity="0.5" stroke-width="3.8" stroke-dasharray="14.06 6.08"/>
<polyline clip-path="url(#c21)" points="1287.85,3137 1290.23,3136.29 1292.61,3135.23 1294.99,3133.89 1297.37,3132.06 1299.75,3129.86 1302.13,3127.28 1304.51,3124.23 1306.89,3120.69 1309.27,3116.2 1311.65,3110.35 1314.03,3105.52 1316.41,3101.56 1318.79,3097.83 1321.17,3093.94 1323.55,3089.99 1325.93,3086.04 1328.31,3082.04 1330.69,3077.96 1333.07,3073.76 1335.45,3069.41 1337.84,3064.94 1340.22,3060.36 1342.6,3055.71 1344.98,3050.99 1347.36,3046.21 1349.74,3041.33 1352.12,3036.36 1354.5,3031.35 1356.88,3026.32 1358.31,3023.32 1370.87,2996.59 1383.06,2970.24 1406.86,2928.83 1430.66,2901.35 1454.47,2896.08 1478.27,2908.12 1502.07,2934.85 1525.88,2970.24 1549.68,3010.14 1573.48,3043.27 1597.28,3072.25 1621.08,3094.09 1644.89,3109.9 1668.69,3120.06 1692.49,3125.33 1716.29,3128.72 1740.1,3130.41 1763.9,3130.75 1811.5,3129.47 1859.11,3125.71 1906.71,3120.44 1954.32,3115.54 2001.92,3112.15 2049.53,3111.03 2097.13,3111.03 2144.74,3111.78 2192.34,3112.15 2239.95,3112.91" fill="none" stroke="#800080" stroke-width="3.8" stroke-linejoin="round" stroke-linecap="square"/>
<line x1="1772.86" y1="3250" x2="1772.86" y2="2233.8" stroke="#800080" stroke-opacity="0.5" stroke-width="3.8" stroke-dasharray="14.06 6.08"/>
<polyline clip-path="url(#c21)" points="1287.85,3137 1290.23,3136.82 1292.61,3136.5 1294.99,3136.07 1297.37,3135.56 1299.75,3135 1302.13,3134.23 1304.51,3133.24 1306.89,3132.13 1309.27,3130.96 1311.65,3129.85 1314.03,3128.79 1316.41,3127.73 1318.79,3126.67 1321.17,3125.59 1323.55,3124.5 1325.93,3123.39 1328.31,3122.24 1330.69,3121.06 1333.07,3119.83 1335.45,3118.55 1337.84,3117.21 1340.22,3115.81 1342.6,3114.34 1344.98,3112.83 1347.36,3111.27 1349.74,3109.68 1352.12,3108.06 1354.5,3106.42 1356.88,3104.77 1359.26,3103.12 1383.06,3085.43 1406.86,3070.75 1430.66,3059.83 1454.47,3050.42 1478.27,3045.53 1502.07,3043.64 1525.88,3046.65 1549.68,3053.43 1573.48,3063.22 1597.28,3072.25 1621.08,3081.66 1644.89,3091.07 1668.69,3099.73 1692.49,3106.88 1716.29,3111.78 1740.1,3115.92 1763.9,3118.18 1811.5,3121.19 1859.11,3120.81 1906.71,3118.18 1954.32,3114.41 2001.92,3109.9 2049.53,3105.38 2097.13,3101.61 2144.74,3098.98 2192.34,3097.85 2239.95,3096.72" fill="none" stroke="#ffa500" stroke-width="3.8" stroke-linejoin="round" stroke-linecap="square"/>
<line x1="2008.08" y1="3250" x2="2008.08" y2="2233.8" stroke="#ffa500" stroke-opacity="0.5" stroke-width="3.8" stroke-dasharray="14.06 6.08"/>
<polyline clip-path="url(#c21)" points="1287.85,3137 1290.23,3136.86 1292.61,3136.66 1294.99,3136.41 1297.37,3136.12 1299.75,3135.8 1302.13,3135.4 1304.51,3134.91 1306.89,3134.36 1309.27,3133.79 1311.65,3133.24 1314.03,3132.71 1316.41,3132.19 1318.79,3131.67 1321.17,3131.15 1323.55,3130.62 1325.93,3130.07 1328.31,3129.5 1330.69,3128.9 1333.07,3128.26 1335.45,3127.59 1337.84,3126.85 1340.22,3126.04 1342.6,3125.17 1344.98,3124.26 1347.36,3123.31 1349.74,3122.34 1352.12,3121.37 1354.5,3120.4 1356.88,3119.46 1359.26,3118.55 1383.06,3109.9 1406.86,3100.86 1430.66,3093.33 1454.47,3086.56 1478.27,3081.66 1502.07,3077.9 1525.88,3075.64 1549.68,3075.26 1573.48,3075.64 1597.28,3077.52 1621.08,3079.78 1644.89,3082.42 1668.69,3085.43 1692.49,3088.06 1716.29,3090.32 1740.1,3092.2 1763.9,3094.46 1811.5,3095.97 1859.11,3094.46 1906.71,3090.32 1954.32,3084.67 2001.92,3077.9 2049.53,3071.12 2097.13,3064.35 2144.74,3058.89 2192.34,3054.94 2239.95,3051.92" fill="none" stroke="#a52a2a" stroke-width="3.8" stroke-linejoin="round" stroke-linecap="square"/>
<line x1="2218.06" y1="3250" x2="2218.06" y2="2233.8" stroke="#a52a2a" stroke-opacity="0.5" stroke-width="3.8" stroke-dasharray="14.06 6.08"/>
</g>
<path d="M241.55 200.7L241.55 225.7M241.55 1217.5L241.55 1192.5M431.97 200.7L431.97 225.7M431.97 1217.5L431.97 1192.5M622.39 200.7L622.39 225.7M622.39 1217.5L622.39 1192.5M812.81 200.7L812.81 225.7M812.81 1217.5L812.81 1192.5M1003.23 200.7L1003.23 225.7M1003.23 1217.5L1003.23 1192.5M1193.65 200.7L1193.65 225.7M1193.65 1217.5L1193.65 1192.5M195 1115.1L220 1115.1M1241.3 1115.1L1216.3 1115.1M195 911.85L220 911.85M1241.3 911.85L1216.3 911.85M195 708.6L220 708.6M1241.3 708.6L1216.3 708.6M195 505.35L220 505.35M1241.3 505.35L1216.3 505.35M195 302.1L220 302.1M1241.3 302.1L1216.3 302.1M1287.85 200.7L1287.85 225.7M1287.85 1217.5L1287.85 1192.5M1478.27 200.7L1478.27 225.7M1478.27 1217.5L1478.27 1192.5M1668.69 200.7L1668.69 225.7M1668.69 1217.5L1668.69 1192.5M1859.11 200.7L1859.11 225.7M1859.11 1217.5L1859.11 1192.5M2049.53 200.7L2049.53 225.7M2049.53 1217.5L2049.53 1192.5M2239.95 200.7L2239.95 225.7M2239.95 1217.5L2239.95 1192.5M1241.3 1115.1L1266.3 1115.1M2287.8 1115.1L2262.8 1115.1M1241.3 911.85L1266.3 911.85M2287.8 911.85L2262.8 911.85M1241.3 708.6L1266.3 708.6M2287.8 708.6L2262.8 708.6M1241.3 505.35L1266.3 505.35M2287.8 505.35L2262.8 505.35M1241.3 302.1L1266.3 302.1M2287.8 302.1L2262.8 302.1M241.55 1217.5L241.55 1242.5M241.55 2233.8L241.55 2208.8M431.97 1217.5L431.97 1242.5M431.97 2233.8L431.97 2208.8M622.39 1217.5L622.39 1242.5M622.39 2233.8L622.39 2208.8M812.81 1217.5L812.81 1242.5M812.81 2233.8L812.81 2208.8M1003.23 1217.5L1003.23 1242.5M1003.23 2233.8L1003.23 2208.8M1193.65 1217.5L1193.65 1242.5M1193.65 2233.8L1193.65 2208.8M195 2120.2L220 2120.2M1241.3 2120.2L1216.3 2120.2M195 1939.56L220 1939.56M1241.3 1939.56L1216.3 1939.56M195 1758.92L220 1758.92M1241.3 1758.92L1216.3 1758.92M195 1578.28L220 1578.28M1241.3 1578.28L1216.3 1578.28M195 1397.64L220 1397.64M1241.3 1397.64L1216.3 1397.64M1287.85 1217.5L1287.85 1242.5M1287.85 2233.8L1287.85 2208.8M1478.27 1217.5L1478.27 1242.5M1478.27 2233.8L1478.27 2208.8M1668.69 1217.5L1668.69 1242.5M1668.69 2233.8L1668.69 2208.8M1859.11 1217.5L1859.11 1242.5M1859.11 2233.8L1859.11 2208.8M2049.53 1217.5L2049.53 1242.5M2049.53 2233.8L2049.53 2208.8M2239.95 1217.5L2239.95 1242.5M2239.95 2233.8L2239.95 2208.8M1241.3 2120.2L1266.3 2120.2M2287.8 2120.2L2262.8 2120.2M1241.3 1939.56L1266.3 1939.56M2287.8 1939.56L2262.8 1939.56M1241.3 1758.92L1266.3 1758.92M2287.8 1758.92L2262.8 1758.92M1241.3 1578.28L1266.3 1578.28M2287.8 1578.28L2262.8 1578.28M1241.3 1397.64L1266.3 1397.64M2287.8 1397.64L2262.8 1397.64M241.55 2233.8L241.55 2258.8M241.55 3250L241.55 3225M431.97 2233.8L431.97 2258.8M431.97 3250L431.97 3225M622.39 2233.8L622.39 2258.8M622.39 3250L622.39 3225M812.81 2233.8L812.81 2258.8M812.81 3250L812.81 3225M1003.23 2233.8L1003.23 2258.8M1003.23 3250L1003.23 3225M1193.65 2233.8L1193.65 2258.8M1193.65 3250L1193.65 3225M195 3137L220 3137M1241.3 3137L1216.3 3137M195 2948.78L220 2948.78M1241.3 2948.78L1216.3 2948.78M195 2760.56L220 2760.56M1241.3 2760.56L1216.3 2760.56M195 2572.34L220 2572.34M1241.3 2572.34L1216.3 2572.34M195 2384.12L220 2384.12M1241.3 2384.12L1216.3 2384.12M1287.85 2233.8L1287.85 2258.8M1287.85 3250L1287.85 3225M1478.27 2233.8L1478.27 2258.8M1478.27 3250L1478.27 3225M1668.69 2233.8L1668.69 2258.8M1668.69 3250L1668.69 3225M1859.11 2233.8L1859.11 2258.8M1859.11 3250L1859.11 3225M2049.53 2233.8L2049.53 2258.8M2049.53 3250L2049.53 3225M2239.95 2233.8L2239.95 2258.8M2239.95 3250L2239.95 3225M1241.3 3137L1266.3 3137M2287.8 3137L2262.8 3137M1241.3 2948.78L1266.3 2948.78M2287.8 2948.78L2262.8 2948.78M1241.3 2760.56L1266.3 2760.56M2287.8 2760.56L2262.8 2760.56M1241.3 2572.34L1266.3 2572.34M2287.8 2572.34L2262.8 2572.34M1241.3 2384.12L1266.3 2384.12M2287.8 2384.12L2262.8 2384.12M289.16 200.7L289.16 213.3M289.16 1217.5L289.16 1204.9M336.76 200.7L336.76 213.3M336.76 1217.5L336.76 1204.9M384.37 200.7L384.37 213.3M384.37 1217.5L384.37 1204.9M479.57 200.7L479.57 213.3M479.57 1217.5L479.57 1204.9M527.18 200.7L527.18 213.3M527.18 1217.5L527.18 1204.9M574.78 200.7L574.78 213.3M574.78 1217.5L574.78 1204.9M670 200.7L670 213.3M670 1217.5L670 1204.9M717.6 200.7L717.6 213.3M717.6 1217.5L717.6 1204.9M765.2 200.7L765.2 213.3M765.2 1217.5L765.2 1204.9M860.41 200.7L860.41 213.3M860.41 1217.5L860.41 1204.9M908.02 200.7L908.02 213.3M908.02 1217.5L908.02 1204.9M955.62 200.7L955.62 213.3M955.62 1217.5L955.62 1204.9M1050.84 200.7L1050.84 213.3M1050.84 1217.5L1050.84 1204.9M1098.44 200.7L1098.44 213.3M1098.44 1217.5L1098.44 1204.9M1146.05 200.7L1146.05 213.3M1146.05 1217.5L1146.05 1204.9M195 1165.91L207.6 1165.91M1241.3 1165.91L1228.7 1165.91M195 1064.29L207.6 1064.29M1241.3 1064.29L1228.7 1064.29M195 1013.47L207.6 1013.47M1241.3 1013.47L1228.7 1013.47M195 962.66L207.6 962.66M1241.3 962.66L1228.7 962.66M195 861.04L207.6 861.04M1241.3 861.04L1228.7 861.04M195 810.22L207.6 810.22M1241.3 810.22L1228.7 810.22M195 759.41L207.6 759.41M1241.3 759.41L1228.7 759.41M195 657.79L207.6 657.79M1241.3 657.79L1228.7 657.79M195 606.97L207.6 606.97M1241.3 606.97L1228.7 606.97M195 556.16L207.6 556.16M1241.3 556.16L1228.7 556.16M195 454.54L207.6 454.54M1241.3 454.54L1228.7 454.54M195 403.72L207.6 403.72M1241.3 403.72L1228.7 403.72M195 352.91L207.6 352.91M1241.3 352.91L1228.7 352.91M195 251.29L207.6 251.29M1241.3 251.29L1228.7 251.29M1335.45 200.7L1335.45 213.3M1335.45 1217.5L1335.45 1204.9M1383.06 200.7L1383.06 213.3M1383.06 1217.5L1383.06 1204.9M1430.66 200.7L1430.66 213.3M1430.66 1217.5L1430.66 1204.9M1525.88 200.7L1525.88 213.3M1525.88 1217.5L1525.88 1204.9M1573.48 200.7L1573.48 213.3M1573.48 1217.5L1573.48 1204.9M1621.08 200.7L1621.08 213.3M1621.08 1217.5L1621.08 1204.9M1716.29 200.7L1716.29 213.3M1716.29 1217.5L1716.29 1204.9M1763.9 200.7L1763.9 213.3M1763.9 1217.5L1763.9 1204.9M1811.5 200.7L1811.5 213.3M1811.5 1217.5L1811.5 1204.9M1906.71 200.7L1906.71 213.3M1906.71 1217.5L1906.71 1204.9M1954.32 200.7L1954.32 213.3M1954.32 1217.5L1954.32 1204.9M2001.92 200.7L2001.92 213.3M2001.92 1217.5L2001.92 1204.9M2097.13 200.7L2097.13 213.3M2097.13 1217.5L2097.13 1204.9M2144.74 200.7L2144.74 213.3M2144.74 1217.5L2144.74 1204.9M2192.34 200.7L2192.34 213.3M2192.34 1217.5L2192.34 1204.9M1241.3 1165.91L1253.9 1165.91M2287.8 1165.91L2275.2 1165.91M1241.3 1064.29L1253.9 1064.29M2287.8 1064.29L2275.2 1064.29M1241.3 1013.47L1253.9 1013.47M2287.8 1013.47L2275.2 1013.47M1241.3 962.66L1253.9 962.66M2287.8 962.66L2275.2 962.66M1241.3 861.04L1253.9 861.04M2287.8 861.04L2275.2 861.04M1241.3 810.22L1253.9 810.22M2287.8 810.22L2275.2 810.22M1241.3 759.41L1253.9 759.41M2287.8 759.41L2275.2 759.41M1241.3 657.79L1253.9 657.79M2287.8 657.79L2275.2 657.79M1241.3 606.97L1253.9 606.97M2287.8 606.97L2275.2 606.97M1241.3 556.16L1253.9 556.16M2287.8 556.16L2275.2 556.16M1241.3 454.54L1253.9 454.54M2287.8 454.54L2275.2 454.54M1241.3 403.72L1253.9 403.72M2287.8 403.72L2275.2 403.72M1241.3 352.91L1253.9 352.91M2287.8 352.91L2275.2 352.91M1241.3 251.29L1253.9 251.29M2287.8 251.29L2275.2 251.29M289.16 1217.5L289.16 1230.1M289.16 2233.8L289.16 2221.2M336.76 1217.5L336.76 1230.1M336.76 2233.8L336.76 2221.2M384.37 1217.5L384.37 1230.1M384.37 2233.8L384.37 2221.2M479.57 1217.5L479.57 1230.1M479.57 2233.8L479.57 2221.2M527.18 1217.5L527.18 1230.1M527.18 2233.8L527.18 2221.2M574.78 1217.5L574.78 1230.1M574.78 2233.8L574.78 2221.2M670 1217.5L670 1230.1M670 2233.8L670 2221.2M717.6 1217.5L717.6 1230.1M717.6 2233.8L717.6 2221.2M765.2 1217.5L765.2 1230.1M765.2 2233.8L765.2 2221.2M860.41 1217.5L860.41 1230.1M860.41 2233.8L860.41 2221.2M908.02 1217.5L908.02 1230.1M908.02 2233.8L908.02 2221.2M955.62 1217.5L955.62 1230.1M955.62 2233.8L955.62 2221.2M1050.84 1217.5L1050.84 1230.1M1050.84 2233.8L1050.84 2221.2M1098.44 1217.5L1098.44 1230.1M1098.44 2233.8L1098.44 2221.2M1146.05 1217.5L1146.05 1230.1M1146.05 2233.8L1146.05 2221.2M195 2210.52L207.6 2210.52M1241.3 2210.52L1228.7 2210.52M195 2165.36L207.6 2165.36M1241.3 2165.36L1228.7 2165.36M195 2075.04L207.6 2075.04M1241.3 2075.04L1228.7 2075.04M195 2029.88L207.6 2029.88M1241.3 2029.88L1228.7 2029.88M195 1984.72L207.6 1984.72M1241.3 1984.72L1228.7 1984.72M195 1894.4L207.6 1894.4M1241.3 1894.4L1228.7 1894.4M195 1849.24L207.6 1849.24M1241.3 1849.24L1228.7 1849.24M195 1804.08L207.6 1804.08M1241.3 1804.08L1228.7 1804.08M195 1713.76L207.6 1713.76M1241.3 1713.76L1228.7 1713.76M195 1668.6L207.6 1668.6M1241.3 1668.6L1228.7 1668.6M195 1623.44L207.6 1623.44M1241.3 1623.44L1228.7 1623.44M195 1533.12L207.6 1533.12M1241.3 1533.12L1228.7 1533.12M195 1487.96L207.6 1487.96M1241.3 1487.96L1228.7 1487.96M195 1442.8L207.6 1442.8M1241.3 1442.8L1228.7 1442.8M195 1352.48L207.6 1352.48M1241.3 1352.48L1228.7 1352.48M195 1307.32L207.6 1307.32M1241.3 1307.32L1228.7 1307.32M195 1262.16L207.6 1262.16M1241.3 1262.16L1228.7 1262.16M1335.45 1217.5L1335.45 1230.1M1335.45 2233.8L1335.45 2221.2M1383.06 1217.5L1383.06 1230.1M1383.06 2233.8L1383.06 2221.2M1430.66 1217.5L1430.66 1230.1M1430.66 2233.8L1430.66 2221.2M1525.88 1217.5L1525.88 1230.1M1525.88 2233.8L1525.88 2221.2M1573.48 1217.5L1573.48 1230.1M1573.48 2233.8L1573.48 2221.2M1621.08 1217.5L1621.08 1230.1M1621.08 2233.8L1621.08 2221.2M1716.29 1217.5L1716.29 1230.1M1716.29 2233.8L1716.29 2221.2M1763.9 1217.5L1763.9 1230.1M1763.9 2233.8L1763.9 2221.2M1811.5 1217.5L1811.5 1230.1M1811.5 2233.8L1811.5 2221.2M1906.71 1217.5L1906.71 1230.1M1906.71 2233.8L1906.71 2221.2M1954.32 1217.5L1954.32 1230.1M1954.32 2233.8L1954.32 2221.2M2001.92 1217.5L2001.92 1230.1M2001.92 2233.8L2001.92 2221.2M2097.13 1217.5L2097.13 1230.1M2097.13 2233.8L2097.13 2221.2M2144.74 1217.5L2144.74 1230.1M2144.74 2233.8L2144.74 2221.2M2192.34 1217.5L2192.34 1230.1M2192.34 2233.8L2192.34 2221.2M1241.3 2210.52L1253.9 2210.52M2287.8 2210.52L2275.2 2210.52M1241.3 2165.36L1253.9 2165.36M2287.8 2165.36L2275.2 2165.36M1241.3 2075.04L1253.9 2075.04M2287.8 2075.04L2275.2 2075.04M1241.3 2029.88L1253.9 2029.88M2287.8 2029.88L2275.2 2029.88M1241.3 1984.72L1253.9 1984.72M2287.8 1984.72L2275.2 1984.72M1241.3 1894.4L1253.9 1894.4M2287.8 1894.4L2275.2 1894.4M1241.3 1849.24L1253.9 1849.24M2287.8 1849.24L2275.2 1849.24M1241.3 1804.08L1253.9 1804.08M2287.8 1804.08L2275.2 1804.08M1241.3 1713.76L1253.9 1713.76M2287.8 1713.76L2275.2 1713.76M1241.3 1668.6L1253.9 1668.6M2287.8 1668.6L2275.2 1668.6M1241.3 1623.44L1253.9 1623.44M2287.8 1623.44L2275.2 1623.44M1241.3 1533.12L1253.9 1533.12M2287.8 1533.12L2275.2 1533.12M1241.3 1487.96L1253.9 1487.96M2287.8 1487.96L2275.2 1487.96M1241.3 1442.8L1253.9 1442.8M2287.8 1442.8L2275.2 1442.8M1241.3 1352.48L1253.9 1352.48M2287.8 1352.48L2275.2 1352.48M1241.3 1307.32L1253.9 1307.32M2287.8 1307.32L2275.2 1307.32M1241.3 1262.16L1253.9 1262.16M2287.8 1262.16L2275.2 1262.16M289.16 2233.8L289.16 2246.4M289.16 3250L289.16 3237.4M336.76 2233.8L336.76 2246.4M336.76 3250L336.76 3237.4M384.37 2233.8L384.37 2246.4M384.37 3250L384.37 3237.4M479.57 2233.8L479.57 2246.4M479.57 3250L479.57 3237.4M527.18 2233.8L527.18 2246.4M527.18 3250L527.18 3237.4M574.78 2233.8L574.78 2246.4M574.78 3250L574.78 3237.4M670 2233.8L670 2246.4M670 3250L670 3237.4M717.6 2233.8L717.6 2246.4M717.6 3250L717.6 3237.4M765.2 2233.8L765.2 2246.4M765.2 3250L765.2 3237.4M860.41 2233.8L860.41 2246.4M860.41 3250L860.41 3237.4M908.02 2233.8L908.02 2246.4M908.02 3250L908.02 3237.4M955.62 2233.8L955.62 2246.4M955.62 3250L955.62 3237.4M1050.84 2233.8L1050.84 2246.4M1050.84 3250L1050.84 3237.4M1098.44 2233.8L1098.44 2246.4M1098.44 3250L1098.44 3237.4M1146.05 2233.8L1146.05 2246.4M1146.05 3250L1146.05 3237.4M195 3212.29L207.6 3212.29M1241.3 3212.29L1228.7 3212.29M195 3174.64L207.6 3174.64M1241.3 3174.64L1228.7 3174.64M195 3099.36L207.6 3099.36M1241.3 3099.36L1228.7 3099.36M195 3061.71L207.6 3061.71M1241.3 3061.71L1228.7 3061.71M195 3024.07L207.6 3024.07M1241.3 3024.07L1228.7 3024.07M195 2986.42L207.6 2986.42M1241.3 2986.42L1228.7 2986.42M195 2911.14L207.6 2911.14M1241.3 2911.14L1228.7 2911.14M195 2873.49L207.6 2873.49M1241.3 2873.49L1228.7 2873.49M195 2835.85L207.6 2835.85M1241.3 2835.85L1228.7 2835.85M195 2798.2L207.6 2798.2M1241.3 2798.2L1228.7 2798.2M195 2722.92L207.6 2722.92M1241.3 2722.92L1228.7 2722.92M195 2685.27L207.6 2685.27M1241.3 2685.27L1228.7 2685.27M195 2647.63L207.6 2647.63M1241.3 2647.63L1228.7 2647.63M195 2609.98L207.6 2609.98M1241.3 2609.98L1228.7 2609.98M195 2534.7L207.6 2534.7M1241.3 2534.7L1228.7 2534.7M195 2497.05L207.6 2497.05M1241.3 2497.05L1228.7 2497.05M195 2459.41L207.6 2459.41M1241.3 2459.41L1228.7 2459.41M195 2421.76L207.6 2421.76M1241.3 2421.76L1228.7 2421.76M195 2346.48L207.6 2346.48M1241.3 2346.48L1228.7 2346.48M195 2308.83L207.6 2308.83M1241.3 2308.83L1228.7 2308.83M195 2271.19L207.6 2271.19M1241.3 2271.19L1228.7 2271.19M1335.45 2233.8L1335.45 2246.4M1335.45 3250L1335.45 3237.4M1383.06 2233.8L1383.06 2246.4M1383.06 3250L1383.06 3237.4M1430.66 2233.8L1430.66 2246.4M1430.66 3250L1430.66 3237.4M1525.88 2233.8L1525.88 2246.4M1525.88 3250L1525.88 3237.4M1573.48 2233.8L1573.48 2246.4M1573.48 3250L1573.48 3237.4M1621.08 2233.8L1621.08 2246.4M1621.08 3250L1621.08 3237.4M1716.29 2233.8L1716.29 2246.4M1716.29 3250L1716.29 3237.4M1763.9 2233.8L1763.9 2246.4M1763.9 3250L1763.9 3237.4M1811.5 2233.8L1811.5 2246.4M1811.5 3250L1811.5 3237.4M1906.71 2233.8L1906.71 2246.4M1906.71 3250L1906.71 3237.4M1954.32 2233.8L1954.32 2246.4M1954.32 3250L1954.32 3237.4M2001.92 2233.8L2001.92 2246.4M2001.92 3250L2001.92 3237.4M2097.13 2233.8L2097.13 2246.4M2097.13 3250L2097.13 3237.4M2144.74 2233.8L2144.74 2246.4M2144.74 3250L2144.74 3237.4M2192.34 2233.8L2192.34 2246.4M2192.34 3250L2192.34 3237.4M1241.3 3212.29L1253.9 3212.29M2287.8 3212.29L2275.2 3212.29M1241.3 3174.64L1253.9 3174.64M2287.8 3174.64L2275.2 3174.64M1241.3 3099.36L1253.9 3099.36M2287.8 3099.36L2275.2 3099.36M1241.3 3061.71L1253.9 3061.71M2287.8 3061.71L2275.2 3061.71M1241.3 3024.07L1253.9 3024.07M2287.8 3024.07L2275.2 3024.07M1241.3 2986.42L1253.9 2986.42M2287.8 2986.42L2275.2 2986.42M1241.3 2911.14L1253.9 2911.14M2287.8 2911.14L2275.2 2911.14M1241.3 2873.49L1253.9 2873.49M2287.8 2873.49L2275.2 2873.49M1241.3 2835.85L1253.9 2835.85M2287.8 2835.85L2275.2 2835.85M1241.3 2798.2L1253.9 2798.2M2287.8 2798.2L2275.2 2798.2M1241.3 2722.92L1253.9 2722.92M2287.8 2722.92L2275.2 2722.92M1241.3 2685.27L1253.9 2685.27M2287.8 2685.27L2275.2 2685.27M1241.3 2647.63L1253.9 2647.63M2287.8 2647.63L2275.2 2647.63M1241.3 2609.98L1253.9 2609.98M2287.8 2609.98L2275.2 2609.98M1241.3 2534.7L1253.9 2534.7M2287.8 2534.7L2275.2 2534.7M1241.3 2497.05L1253.9 2497.05M2287.8 2497.05L2275.2 2497.05M1241.3 2459.41L1253.9 2459.41M2287.8 2459.41L2275.2 2459.41M1241.3 2421.76L1253.9 2421.76M2287.8 2421.76L2275.2 2421.76M1241.3 2346.48L1253.9 2346.48M2287.8 2346.48L2275.2 2346.48M1241.3 2308.83L1253.9 2308.83M2287.8 2308.83L2275.2 2308.83M1241.3 2271.19L1253.9 2271.19M2287.8 2271.19L2275.2 2271.19" stroke="#000" stroke-width="1.9" fill="none"/>
<rect x="195" y="200.7" width="1046.3" height="1016.8" fill="none" stroke="#000" stroke-width="2.0"/>
<rect x="1241.3" y="200.7" width="1046.5" height="1016.8" fill="none" stroke="#000" stroke-width="2.0"/>
<rect x="195" y="1217.5" width="1046.3" height="1016.3" fill="none" stroke="#000" stroke-width="2.0"/>
<rect x="1241.3" y="1217.5" width="1046.5" height="1016.3" fill="none" stroke="#000" stroke-width="2.0"/>
<rect x="195" y="2233.8" width="1046.3" height="1016.2" fill="none" stroke="#000" stroke-width="2.0"/>
<rect x="1241.3" y="2233.8" width="1046.5" height="1016.2" fill="none" stroke="#000" stroke-width="2.0"/>
<g stroke="#000" stroke-width="0.66" stroke-linejoin="round">
<text x="241.55" y="3296" font-size="55" text-anchor="middle">0</text>
<text x="431.97" y="3296" font-size="55" text-anchor="middle">200</text>
<text x="622.39" y="3296" font-size="55" text-anchor="middle">400</text>
<text x="812.81" y="3296" font-size="55" text-anchor="middle">600</text>
<text x="1003.23" y="3296" font-size="55" text-anchor="middle">800</text>
<text x="1193.65" y="3296" font-size="55" text-anchor="middle">1000</text>
<text x="1287.85" y="3296" font-size="55" text-anchor="middle">0</text>
<text x="1478.27" y="3296" font-size="55" text-anchor="middle">200</text>
<text x="1668.69" y="3296" font-size="55" text-anchor="middle">400</text>
<text x="1859.11" y="3296" font-size="55" text-anchor="middle">600</text>
<text x="2049.53" y="3296" font-size="55" text-anchor="middle">800</text>
<text x="2239.95" y="3296" font-size="55" text-anchor="middle">1000</text>
<text transform="translate(113.32 1134.10) scale(1.0250 1.0190)" font-size="55" stroke-width="0.66">0.0</text>
<text transform="translate(113.28 930.85) scale(1.0405 1.0190)" font-size="55" stroke-width="0.66">0.2</text>
<text transform="translate(113.36 727.60) scale(1.0057 1.0190)" font-size="55" stroke-width="0.66">0.4</text>
<text transform="translate(113.33 524.35) scale(1.0185 1.0190)" font-size="55" stroke-width="0.66">0.6</text>
<text transform="translate(113.32 321.10) scale(1.0250 1.0190)" font-size="55" stroke-width="0.66">0.8</text>
<text x="186" y="2138.65" font-size="55" text-anchor="end">0</text>
<text x="186" y="1958.01" font-size="55" text-anchor="end">200</text>
<text x="186" y="1777.37" font-size="55" text-anchor="end">400</text>
<text x="186" y="1596.73" font-size="55" text-anchor="end">600</text>
<text x="186" y="1416.09" font-size="55" text-anchor="end">800</text>
<text x="186" y="1235.45" font-size="55" text-anchor="end">1000</text>
<text x="186" y="3155.45" font-size="55" text-anchor="end">0</text>
<text x="186" y="2967.23" font-size="55" text-anchor="end">50</text>
<text x="186" y="2779.01" font-size="55" text-anchor="end">100</text>
<text x="186" y="2590.79" font-size="55" text-anchor="end">150</text>
<text x="186" y="2402.57" font-size="55" text-anchor="end">200</text>
<text transform="translate(530.87 3361.30) scale(1.0498 0.9922)" font-size="68" stroke-width="0.82">Distance Cut</text>
<text transform="translate(1577.37 3361.30) scale(1.0498 0.9922)" font-size="68" stroke-width="0.82">Distance Cut</text>
<text transform="rotate(-90) translate(-846.80 90.90) scale(1.0336 0.9967)" font-size="68" stroke-width="0.82">Moran’s I</text>
<text transform="rotate(-90) translate(-1826.03 53.30) scale(0.9731 0.9855)" font-size="68" stroke-width="0.82">Z-score</text>
<text transform="rotate(-90) translate(-3051.39 75.80) scale(1.0132 0.9989)" font-size="68" stroke-width="0.82">(Moran’s I)</text>
<text transform="rotate(-90) translate(-2727.63 84.21) scale(1.1105 1.1214)" font-size="68" stroke-width="0.82">×</text>
<text transform="rotate(-90) translate(-2676.90 75.80) scale(0.9501 0.9989)" font-size="68" stroke-width="0.82">(Z-score)</text>
<text transform="translate(921.36 72.80) scale(1.1121 1.0046)" font-size="100" stroke-width="1.2">Dust,</text>
<text transform="translate(1192.74 72.80) scale(1.0540 1.0046)" font-size="100" stroke-width="1.2">ES</text>
<text transform="translate(1314.19 77.16) scale(1.4215 0.8800)" font-size="100" stroke-width="1.2">=</text>
<text transform="translate(1394.52 72.80) scale(0.9920 1.0030)" font-size="100" stroke-width="1.2">10</text>
<text transform="translate(514.51 183.50) scale(1.0804 1.0185)" font-size="78" stroke-width="0.94">Δx</text>
<text transform="translate(624.51 186.46) scale(1.4520 0.8853)" font-size="78" stroke-width="0.94">=</text>
<text transform="translate(699.82 183.50) scale(1.0375 1.0010)" font-size="78" stroke-width="0.94">312.57</text>
<text transform="translate(1574.51 183.07) scale(1.0789 0.9713)" font-size="78" stroke-width="0.94">ε</text>
<text transform="translate(1614.14 196.20) scale(1.0849 0.9474)" font-size="55" stroke-width="0.66">max</text>
<text transform="translate(1735.01 186.46) scale(1.4520 0.8853)" font-size="78" stroke-width="0.94">=</text>
<text transform="translate(1811.04 183.50) scale(1.0369 1.0031)" font-size="78" stroke-width="0.94">0.23</text>
</g>
<rect x="240.4" y="223.2" width="978.9" height="312.8" rx="8" ry="8" fill="#fff" stroke="#000" stroke-width="2.5"/>
<g stroke="#000" stroke-width="0.66" stroke-linejoin="round">
<text transform="translate(383.79 272.54) scale(1.0566 1.0815)" font-size="45" stroke-width="0.54">ε</text>
<text transform="translate(406.41 279.80) scale(1.0617 0.8973)" font-size="32" stroke-width="0.38">max</text>
<text transform="translate(466.19 276.28) scale(1.4557 1.0009)" font-size="45" stroke-width="0.54">=</text>
<text transform="translate(501.78 272.80) scale(1.0124 1.0002)" font-size="45" stroke-width="0.54">1e-10</text>
<text transform="translate(383.79 336.39) scale(1.0566 1.0815)" font-size="45" stroke-width="0.54">ε</text>
<text transform="translate(406.41 343.65) scale(1.0617 0.8973)" font-size="32" stroke-width="0.38">max</text>
<text transform="translate(466.19 340.13) scale(1.4557 1.0009)" font-size="45" stroke-width="0.54">=</text>
<text transform="translate(502.88 336.65) scale(1.0040 1.0002)" font-size="45" stroke-width="0.54">0.00014</text>
<text transform="translate(383.79 400.24) scale(1.0566 1.0815)" font-size="45" stroke-width="0.54">ε</text>
<text transform="translate(406.41 407.50) scale(1.0617 0.8973)" font-size="32" stroke-width="0.38">max</text>
<text transform="translate(466.19 403.98) scale(1.4557 1.0009)" font-size="45" stroke-width="0.54">=</text>
<text transform="translate(502.85 400.50) scale(1.0209 1.0002)" font-size="45" stroke-width="0.54">0.011</text>
<text transform="translate(383.79 464.09) scale(1.0566 1.0815)" font-size="45" stroke-width="0.54">ε</text>
<text transform="translate(406.41 471.35) scale(1.0617 0.8973)" font-size="32" stroke-width="0.38">max</text>
<text transform="translate(466.19 467.83) scale(1.4557 1.0009)" font-size="45" stroke-width="0.54">=</text>
<text transform="translate(502.87 464.35) scale(1.0048 1.0002)" font-size="45" stroke-width="0.54">0.034</text>
<text transform="translate(867.89 272.54) scale(1.0566 1.0815)" font-size="45" stroke-width="0.54">ε</text>
<text transform="translate(890.51 279.80) scale(1.0617 0.8973)" font-size="32" stroke-width="0.38">max</text>
<text transform="translate(950.29 276.28) scale(1.4557 1.0009)" font-size="45" stroke-width="0.54">=</text>
<text transform="translate(986.97 272.80) scale(1.0093 1.0002)" font-size="45" stroke-width="0.54">0.23</text>
<text transform="translate(867.89 336.39) scale(1.0566 1.0815)" font-size="45" stroke-width="0.54">ε</text>
<text transform="translate(890.51 343.65) scale(1.0617 0.8973)" font-size="32" stroke-width="0.38">max</text>
<text transform="translate(950.29 340.13) scale(1.4557 1.0009)" font-size="45" stroke-width="0.54">=</text>
<text transform="translate(986.97 336.65) scale(1.0056 1.0002)" font-size="45" stroke-width="0.54">0.5</text>
<text transform="translate(868.60 400.20) scale(1.1054 0.9985)" font-size="45" stroke-width="0.54">True Correlation</text>
<text transform="translate(868.02 445.60) scale(1.0742 0.9951)" font-size="45" stroke-width="0.54">Length</text>
<text transform="translate(868.01 509.60) scale(1.0793 0.9951)" font-size="45" stroke-width="0.54">No Correlation</text>
</g>
<line x1="256.8" y1="257.3" x2="350.5" y2="257.3" stroke="#0000ff" stroke-width="3.8"/>
<line x1="256.8" y1="321.2" x2="350.5" y2="321.2" stroke="#008000" stroke-width="3.8"/>
<line x1="256.8" y1="385.1" x2="350.5" y2="385.1" stroke="#ff0000" stroke-width="3.8"/>
<line x1="256.8" y1="449" x2="350.5" y2="449" stroke="#800080" stroke-width="3.8"/>
<line x1="740.3" y1="257.3" x2="834.1" y2="257.3" stroke="#ffa500" stroke-width="3.8"/>
<line x1="740.3" y1="321.3" x2="834.1" y2="321.3" stroke="#a52a2a" stroke-width="3.8"/>
<line x1="740.3" y1="411.8" x2="834.1" y2="411.8" stroke="#000" stroke-width="3.8"/>
<line x1="740.3" y1="493.4" x2="834.1" y2="493.4" stroke="#000" stroke-width="3.8" stroke-dasharray="14.06 6.08"/>
<rect x="1375.8" y="223.2" width="889.2" height="264.2" rx="8" ry="8" fill="#fff" stroke="#000" stroke-width="2.5"/>
<g stroke="#000" stroke-width="0.66" stroke-linejoin="round">
<text transform="translate(1520.85 269.90) scale(1.0793 1.0212)" font-size="45" stroke-width="0.54">Δx</text>
<text transform="translate(1575.22 273.38) scale(1.4461 1.0009)" font-size="45" stroke-width="0.54">=</text>
<text transform="translate(1609.61 269.90) scale(1.0307 1.0002)" font-size="45" stroke-width="0.54">14.38</text>
<text transform="translate(1520.85 332.63) scale(1.0793 1.0212)" font-size="45" stroke-width="0.54">Δx</text>
<text transform="translate(1575.22 336.11) scale(1.4461 1.0009)" font-size="45" stroke-width="0.54">=</text>
<text transform="translate(1609.82 332.63) scale(1.0252 1.0002)" font-size="45" stroke-width="0.54">51.17</text>
<text transform="translate(1520.85 395.36) scale(1.0793 1.0212)" font-size="45" stroke-width="0.54">Δx</text>
<text transform="translate(1575.22 398.84) scale(1.4461 1.0009)" font-size="45" stroke-width="0.54">=</text>
<text transform="translate(1610.42 395.36) scale(1.0137 1.0002)" font-size="45" stroke-width="0.54">259.5</text>
<text transform="translate(1520.85 458.09) scale(1.0793 1.0212)" font-size="45" stroke-width="0.54">Δx</text>
<text transform="translate(1575.22 461.57) scale(1.4461 1.0009)" font-size="45" stroke-width="0.54">=</text>
<text transform="translate(1609.83 458.09) scale(1.0202 1.0002)" font-size="45" stroke-width="0.54">509.41</text>
<text transform="translate(1953.85 269.90) scale(1.0793 1.0212)" font-size="45" stroke-width="0.54">Δx</text>
<text transform="translate(2008.22 273.38) scale(1.4461 1.0009)" font-size="45" stroke-width="0.54">=</text>
<text transform="translate(2042.48 269.90) scale(1.0225 1.0002)" font-size="45" stroke-width="0.54">756.46</text>
<text transform="translate(1953.85 332.63) scale(1.0793 1.0212)" font-size="45" stroke-width="0.54">Δx</text>
<text transform="translate(2008.22 336.11) scale(1.4461 1.0009)" font-size="45" stroke-width="0.54">=</text>
<text transform="translate(2043.99 332.63) scale(1.0106 1.0002)" font-size="45" stroke-width="0.54">977.01</text>
<text transform="translate(1953.31 398.40) scale(1.0812 1.0087)" font-size="45" stroke-width="0.54">No Correlation</text>
</g>
<line x1="1392.2" y1="257.3" x2="1485.8" y2="257.3" stroke="#0000ff" stroke-width="3.8"/>
<line x1="1392.2" y1="319.8" x2="1485.8" y2="319.8" stroke="#008000" stroke-width="3.8"/>
<line x1="1392.2" y1="382.3" x2="1485.8" y2="382.3" stroke="#ff0000" stroke-width="3.8"/>
<line x1="1392.2" y1="444.8" x2="1485.8" y2="444.8" stroke="#800080" stroke-width="3.8"/>
<line x1="1825.2" y1="257.3" x2="1919.2" y2="257.3" stroke="#ffa500" stroke-width="3.8"/>
<line x1="1825.2" y1="319.8" x2="1919.2" y2="319.8" stroke="#a52a2a" stroke-width="3.8"/>
<line x1="1826.6" y1="381.3" x2="1919.2" y2="381.3" stroke="#000" stroke-width="3.8" stroke-dasharray="14.06 6.08"/>
</svg></body></html>
